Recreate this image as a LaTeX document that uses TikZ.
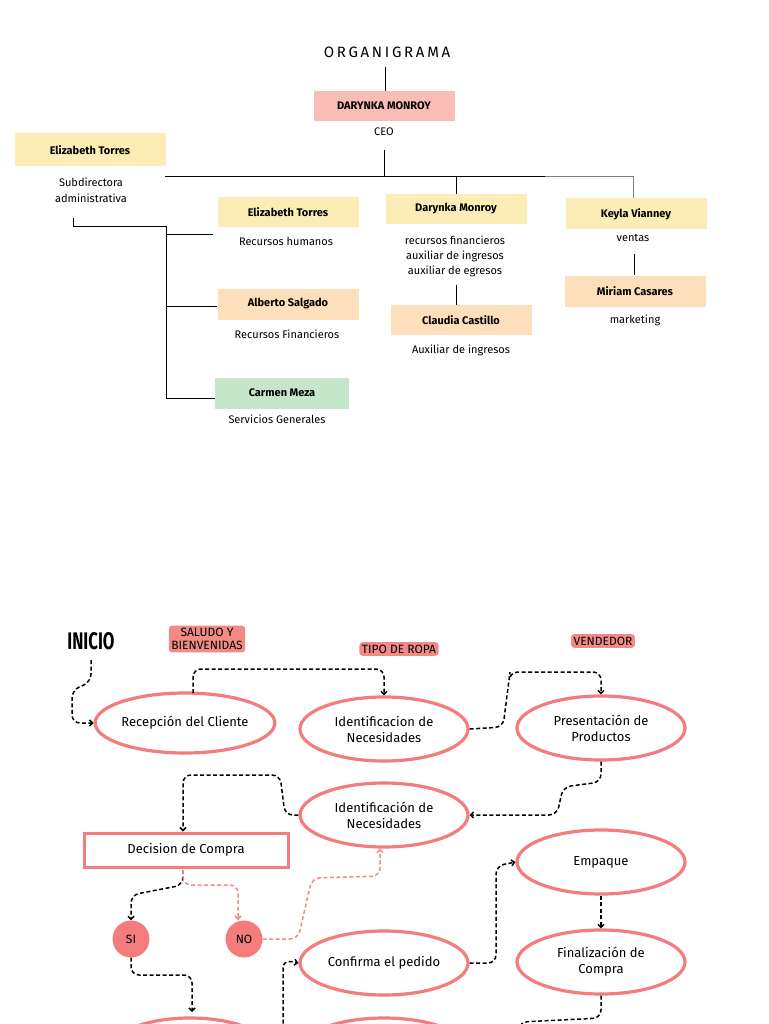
\documentclass[tikz,border=0pt]{standalone}
\usepackage{fontspec}
\setmainfont{Fira Sans}
\usetikzlibrary{shapes.geometric,arrows.meta}
\definecolor{pinkbox}{HTML}{F9BDB5}
\definecolor{yel}{HTML}{FBEDB5}
\definecolor{peach}{HTML}{FDDFBB}
\definecolor{grn}{HTML}{C6E6CB}
\definecolor{sal}{HTML}{F47C7C}
\definecolor{salb}{HTML}{F28A86}
\begin{document}
\begin{tikzpicture}[x=1pt,y=-1pt,
  box/.style={draw=none,minimum width=141pt,minimum height=30pt,font=\fontsize{11}{12}\selectfont\bfseries},
  lbl/.style={font=\fontsize{11}{15}\selectfont,align=center},
  ln/.style={draw=black,line width=0.7pt},
  ell/.style={ellipse,draw=sal,line width=3.2pt,inner sep=0pt,minimum width=168pt,minimum height=64pt,align=center,font=\fontsize{13}{16}\selectfont},
  tag/.style={fill=salb,rounded corners=3pt,inner sep=2.5pt,align=center,font=\fontsize{12}{13}\selectfont},
  da/.style={dashed,line width=1.5pt,dash pattern=on 4pt off 2.5pt,-{Straight Barb[length=3pt,width=6pt]},rounded corners=8pt},
  dl/.style={dashed,line width=1.5pt,dash pattern=on 4pt off 2.5pt,rounded corners=8pt},
  circ/.style={circle,fill=sal,minimum size=37pt,inner sep=0pt,font=\fontsize{12}{13}\selectfont}]
\useasboundingbox (0,0) rectangle (768,1024);
\clip (0,0) rectangle (768,1024);
\fill[white] (0,0) rectangle (768,1024);
% ---- Organigrama ----
\node (title) at (387,52) {\fontsize{15}{17}\selectfont\addfontfeature{LetterSpace=18}ORGANIGRAMA};
\node[box,fill=pinkbox] (ceo) at (384,106) {DARYNKA MONROY};
\node[lbl] (ceot) at (384,132) {CEO};
\coordinate (t1) at (385,67);
\draw[ln,thin] (t1) -- (t1|-ceo.north);
\node[box,fill=yel,minimum width=151pt,minimum height=33pt] (et1) at (90,150) {Elizabeth Torres};
\node[lbl,font=\fontsize{11}{16}\selectfont] (sub) at (91,190) {Subdirectora\\administrativa};
\node[box,fill=yel] (et2) at (288,212) {Elizabeth Torres};
\node[lbl] (rh) at (286,241) {Recursos humanos};
\node[box,fill=yel] (dm) at (456,209) {Darynka Monroy};
\node[lbl] (rf) at (455,256) {recursos financieros\\auxiliar de ingresos\\auxiliar de egresos};
\node[box,fill=yel,minimum height=31pt] (kv) at (636,214) {Keyla Vianney};
\node[lbl] (ve) at (633,238) {ventas};
\node[box,fill=peach,minimum height=31pt] (mc) at (635,291) {Miriam Casares};
\node[lbl] (mk) at (635,320) {marketing};
\node[box,fill=peach] (cc) at (461,320) {Claudia Castillo};
\node[lbl] (ai) at (461,350) {Auxiliar de ingresos};
\node[box,fill=peach,minimum height=31pt] (as) at (288,304) {Alberto Salgado};
\node[lbl] (rfi) at (287,334) {Recursos Financieros};
\node[box,fill=grn,minimum width=134pt,minimum height=31pt] (cm) at (282,393) {Carmen Meza};
\node[lbl] (sg) at (277,419) {Servicios Generales};
\coordinate (h0) at (384,150);
\coordinate (hc) at (384,176);
\coordinate (kx) at (633,176);
\coordinate (dx) at (456,176);
\coordinate (mx) at (634,254);
\coordinate (cx) at (456,285);
\draw[ln] (h0) -- (hc);
\draw[ln] (165,176) -- (545,176);
\draw[ln,gray] (545,176) -- (kx) -- (kx|-kv.north);
\draw[ln] (dx) -- (dx|-dm.north);
\draw[ln] (mx) -- (mx|-mc.north);
\draw[ln] (cx) -- (cx|-cc.north);
\draw[ln] (73,218) -- (73,226) -- (166,226) -- (166,398) -- (cm.west|-0,398);
\draw[ln] (166,234) -- (213,234);
\draw[ln] (166,306) -- (as.west|-0,306);
% ---- Flow ----
\node[font=\fontsize{24}{26}\selectfont\bfseries\addfontfeature{FakeStretch=0.7}] (ini) at (91,641) {INICIO};
\node[tag] (t1l) at (207,639) {SALUDO Y\\BIENVENIDAS};
\node[tag] (t2l) at (399,649) {TIPO DE ROPA};
\node[tag] (t3l) at (603,641) {VENDEDOR};
\node[ell,minimum width=158pt,minimum height=60pt] (rc) at (185,723) {Recepción del Cliente};
\node[ell] (in1) at (384,729) {Identificacion de\\Necesidades};
\node[ell] (pp) at (601,728) {Presentación de\\Productos};
\node[ell] (in2) at (384,815) {Identificación de\\Necesidades};
\node[draw=sal,line width=3pt,minimum width=204pt,minimum height=34pt,font=\fontsize{13}{15}\selectfont] (dc) at (186,850) {Decision de Compra};
\node[circ] (si) at (131,939) {SI};
\node[circ] (no) at (244,939) {NO};
\node[ell] (cp) at (384,963) {Confirma el pedido};
\node[ell] (em) at (601,862) {Empaque};
\node[ell] (fc) at (601,962) {Finalización de\\Compra};
\node[ell,minimum width=160pt] (b1) at (190,1050) {};
\node[ell] (b2) at (384,1050) {};
\coordinate (c1) at (91,660);
\draw[da] (c1) -- (91,682) -- (72,690) -- (72,723) -- (rc.west);
\draw[da] (193,693) -- (193,669) -- (384,669) -- (in1.north);
\draw[da] (in1.east) -- (503,727) -- (509,680) -- (510,672) -- (601,672) -- (pp.north);
\draw[da] (pp.south) -- (601,782) -- (563,787) -- (557,815) -- (in2.east);
\draw[da] (in2.west) -- (285,815) -- (280,775) -- (183,775) -- (dc.north-|183,0);
\draw[da] (183,870) -- (183,885) -- (131,895) -- (si.north);
\draw[da,salb] (183,870) -- (183,885) -- (238,885) -- (238,920);
\draw[da,salb] (no.east) -- (298,939) -- (312,878) -- (380,876) -- (in2.south-|380,0);
\draw[da] (si.south) -- (131,975) -- (192,975) -- (192,1012);
\draw[da] (283,1030) -- (283,960) -- (cp.west);
\draw[da] (cp.east) -- (496,963) -- (496,866) -- (em.west);
\draw[da] (em.south) -- (fc.north);
\draw[dl] (fc.south) -- (601,1018) -- (520,1022) -- (515,1035);
\end{tikzpicture}
\end{document}
